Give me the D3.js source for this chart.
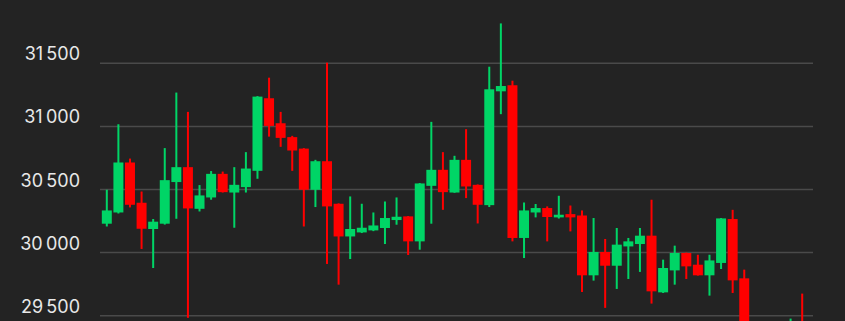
<!DOCTYPE html>
<html>
<head>
<meta charset="utf-8">
<script src="https://cdn.jsdelivr.net/npm/d3@7"></script>
<style>
  html, body { margin: 0; padding: 0; background: #232323; }
  svg { display: block; }
  .tick-label { font-family: Inter, "Noto Sans", sans-serif; font-size: 18px; fill: #e8e8e8; }
</style>
</head>
<body>
<script>
// candle values (61 sessions, last ones run below the frame)
var opens  = [30229, 30318, 30714, 30395, 30187, 30229, 30559, 30677, 30347, 30437,
              30624, 30476, 30519, 30648, 31223, 31025, 30915, 30824, 30498, 30724,
              30387, 30128, 30160, 30176, 30195, 30258, 30287, 30089, 30529, 30656,
              30476, 30735, 30537, 30376, 31278, 31326, 30116, 30318, 30353, 30279,
              30305, 30294, 29820, 30005, 29896, 30049, 30068, 30134, 29685, 29859,
              29997, 29904, 29820, 29918, 30266, 29796, 29350, 29400, 29300, 29380,
              29450];
var highs  = [30498, 31017, 30745, 30484, 30266, 30828, 31268, 31115, 30535, 30646,
              30642, 30677, 30796, 31240, 31386, 31115, 30925, 30828, 30735, 31505,
              30390, 30445, 30387, 30318, 30405, 30437, 30290, 30551, 31036, 30796,
              30767, 30978, 30540, 31473, 31816, 31362, 30397, 30385, 30366, 30450,
              30373, 30334, 30274, 30108, 30195, 30116, 30195, 30419, 29944, 30055,
              30000, 29983, 29983, 30274, 30339, 29865, 29440, 29440, 29430, 29477,
              29675];
var lows   = [30207, 30310, 30358, 30029, 29878, 30222, 30268, 29483, 30326, 30419,
              30476, 30197, 30476, 30585, 30919, 30838, 30648, 30207, 30361, 29910,
              29746, 29949, 30155, 30170, 30068, 30221, 29981, 30023, 30229, 30339,
              30474, 30432, 30231, 30361, 31097, 30089, 29957, 30279, 30089, 30270,
              30168, 29688, 29778, 29562, 29712, 29791, 29847, 29596, 29680, 29746,
              29791, 29818, 29659, 29870, 29680, 29300, 29250, 29220, 29250, 29330,
              29340];
var closes = [30334, 30714, 30379, 30189, 30245, 30574, 30677, 30350, 30453, 30624,
              30479, 30537, 30666, 31236, 31004, 30909, 30809, 30498, 30724, 30366,
              30128, 30187, 30197, 30215, 30274, 30284, 30089, 30548, 30656, 30479,
              30735, 30524, 30379, 31294, 31320, 30116, 30334, 30353, 30282, 30300,
              30279, 29820, 30005, 29896, 30063, 30089, 30134, 29693, 29878, 29997,
              29891, 29820, 29938, 30271, 29780, 29350, 29400, 29300, 29380, 29440,
              29380];

var yTicks = [29500, 30000, 30500, 31000, 31500];
var yTickLabels = ["29\u202F500", "30\u202F000", "30\u202F500", "31\u202F000", "31\u202F500"];

var width = 845, height = 321;
var upColor = "#00d566", downColor = "#ff0000";

var svg = d3.select("body")
  .append("svg")
    .attr("width", width)
    .attr("height", height);

var x = d3.scaleBand()
    .domain(d3.range(opens.length))
    .range([100.2, 808.8])
    .padding(0.14);

var y = d3.scaleLinear()
    .domain([29500, 31500])
    .range([315.7, 63.3]);

// grid lines
svg.append("g").attr("class", "grid")
  .selectAll("line")
  .data(yTicks)
  .enter().append("line")
    .attr("x1", 100)
    .attr("x2", 813)
    .attr("y1", function(d) { return y(d); })
    .attr("y2", function(d) { return y(d); })
    .attr("stroke", "#4a4a4a")
    .attr("stroke-width", 1.5);

// tick labels, sitting just above their line
svg.append("g").attr("class", "labels")
  .selectAll("text")
  .data(yTicks)
  .enter().append("text")
    .attr("class", "tick-label")
    .attr("x", 80)
    .attr("y", function(d) { return y(d) - 3; })
    .style("text-anchor", "end")
    .text(function(d, i) { return yTickLabels[i]; });

var candles = svg.append("g").attr("class", "candles")
  .selectAll("g")
  .data(d3.range(opens.length))
  .enter().append("g")
    .attr("fill", function(i) { return closes[i] >= opens[i] ? upColor : downColor; });

var cx = function(i) { return x(i) + x.bandwidth() / 2; };

// wicks
candles.append("rect")
    .attr("x", function(i) { return cx(i) - 1; })
    .attr("width", 2)
    .attr("y", function(i) { return y(highs[i]); })
    .attr("height", function(i) { return y(lows[i]) - y(highs[i]); });

// bodies
candles.append("rect")
    .attr("x", function(i) { return x(i); })
    .attr("width", x.bandwidth())
    .attr("y", function(i) { return y(Math.max(opens[i], closes[i])); })
    .attr("height", function(i) { return Math.max(1.5, Math.abs(y(opens[i]) - y(closes[i]))); });
</script>
</body>
</html>
